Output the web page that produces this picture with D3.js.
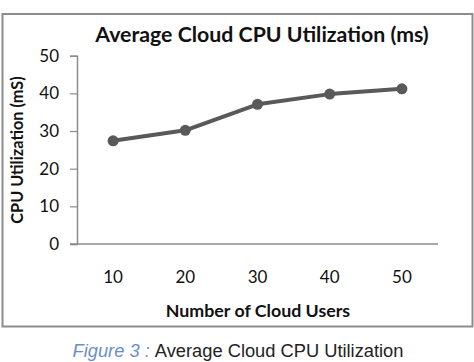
<!DOCTYPE html>
<html><head><meta charset="utf-8">
<script src="https://cdn.jsdelivr.net/npm/d3@7"></script>
<style>body{margin:0;background:#fff}svg{display:block}</style>
</head><body>
<svg id="c" width="474" height="362"></svg>
<script>
const categories = ["10","20","30","40","50"];
const values = [27.4, 30.2, 37.1, 39.8, 41.2];
const yTicks = [0,10,20,30,40,50];

(function(){
const svg = d3.select("#c");
const W=474,H=362;
svg.append("rect").attr("width",W).attr("height",H).attr("fill","#fff");
svg.append("rect").attr("x",2.5).attr("y",14).attr("width",470).attr("height",312.5)
  .attr("fill","#fff").attr("stroke","#8c8c8c").attr("stroke-width",2);

const pl=77,pr=438,pt=55.7,pb=244;
const x=d3.scaleBand().domain(categories).range([pl,pr]);
const y=d3.scaleLinear().domain([0,50]).range([pb,pt]);

const font="Lato, 'Open Sans', sans-serif";
const yAxis=svg.append("g").attr("transform",`translate(${pl},0)`)
  .call(d3.axisLeft(y).tickValues(yTicks).tickSize(7).tickPadding(11));
const xAxis=svg.append("g").attr("transform",`translate(0,${pb})`)
  .call(d3.axisBottom(x).tickSize(0).tickPadding(27));
[yAxis,xAxis].forEach(g=>{
  g.select(".domain").attr("stroke","#8c8c8c").attr("stroke-width",1.5);
  g.selectAll(".tick line").attr("stroke","#8c8c8c").attr("stroke-width",1.2);
  g.selectAll("text").attr("font-family",font).attr("font-size",17).attr("fill","#111");
});
xAxis.select(".domain").attr("d",`M${pl-7},0H${pr}`);

const line=d3.line().x((d,i)=>x(categories[i])+x.bandwidth()/2).y(d=>y(d));
svg.append("path").datum(values).attr("d",line).attr("fill","none")
  .attr("stroke","#595959").attr("stroke-width",4).attr("stroke-linejoin","round");
svg.selectAll("circle.pt").data(values).join("circle").attr("class","pt")
  .attr("cx",(d,i)=>x(categories[i])+x.bandwidth()/2).attr("cy",d=>y(d))
  .attr("r",5.5).attr("fill","#595959");

svg.append("text").attr("x",262).attr("y",41.5).attr("text-anchor","middle")
  .attr("font-family",font).attr("font-weight","bold").attr("font-size",21.3).attr("fill","#111")
  .text("Average Cloud CPU Utilization (ms)");
svg.append("text").attr("transform","translate(23,150) rotate(-90)").attr("text-anchor","middle")
  .attr("font-family",font).attr("font-weight","bold").attr("font-size",16.3).attr("fill","#111")
  .text("CPU Utilization (mS)");
svg.append("text").attr("x",258).attr("y",317).attr("text-anchor","middle")
  .attr("font-family",font).attr("font-weight","bold").attr("font-size",17.8).attr("fill","#111")
  .text("Number of Cloud Users");

const cap=svg.append("text").attr("x",238).attr("y",357).attr("text-anchor","middle")
  .attr("font-family","'Liberation Sans', Arial, sans-serif").attr("font-size",18.3).attr("fill","#222");
cap.append("tspan").attr("font-style","italic").attr("fill","#6a8fc8").text("Figure 3 : ");
cap.append("tspan").text("Average Cloud CPU Utilization");
})();
</script>
</body></html>
